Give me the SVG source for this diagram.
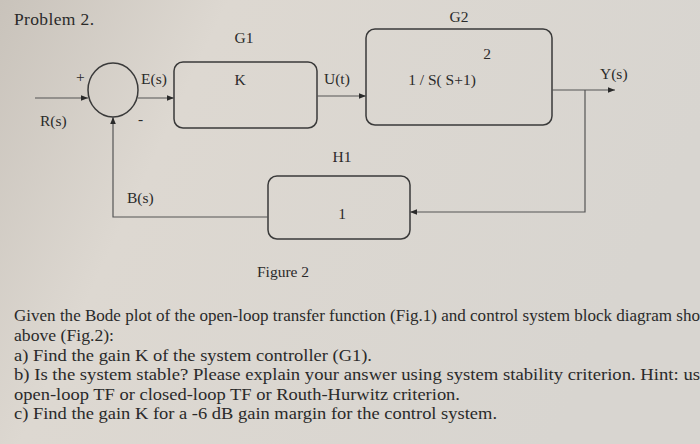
<svg xmlns="http://www.w3.org/2000/svg" width="700" height="444" viewBox="0 0 700 444">
<defs>
<linearGradient id="bg" x1="0" y1="0" x2="1" y2="0.3">
<stop offset="0" stop-color="#c9c3bb"/><stop offset="0.3" stop-color="#ddd8d1"/><stop offset="1" stop-color="#d8d5d0"/>
</linearGradient>
<marker id="ar" viewBox="0 0 10 10" refX="10" refY="5" markerWidth="7" markerHeight="7" orient="auto" markerUnits="userSpaceOnUse"><path d="M0,1 L10,5 L0,9 z" fill="#2a2a2a"/></marker>
<style>
text{font-family:"Liberation Serif",serif;fill:#2a2a2a;font-size:15.5px}
.t{font-size:17.5px}
.b{fill:none;stroke:#3a3a3a;stroke-width:1.5}
.c{fill:none;stroke:#555;stroke-width:1.2}
</style>
</defs>
<rect width="700" height="444" fill="url(#bg)"/>
<text x="14" y="25" class="t" font-size="17" textLength="80">Problem 2.</text>
<g id="sum"><ellipse cx="113" cy="90" rx="25" ry="27" class="b"/><text x="76" y="82" font-size="9">+</text><text x="138" y="124">-</text></g>
<g id="G1"><rect x="174" y="62" width="143" height="66" rx="9" class="b"/><text x="244" y="43" text-anchor="middle">G1</text><text x="240" y="85" text-anchor="middle">K</text></g>
<g id="G2"><rect x="366" y="29" width="186" height="96" rx="9" class="b"/><text x="459" y="22" text-anchor="middle">G2</text><text x="487" y="59" text-anchor="middle">2</text><text x="442" y="85" text-anchor="middle">1 / S( S+1)</text></g>
<g id="H1"><rect x="268" y="176" width="142" height="63" rx="9" class="b"/><text x="342" y="162" text-anchor="middle">H1</text><text x="342" y="219" text-anchor="middle">1</text></g>
<g id="connectors">
<line x1="35" y1="98" x2="88" y2="98" class="c" marker-end="url(#ar)"/>
<line x1="138" y1="98" x2="174" y2="98" class="c" marker-end="url(#ar)"/>
<line x1="317" y1="96" x2="366" y2="96" class="c" marker-end="url(#ar)"/>
<line x1="552" y1="90" x2="615" y2="90" class="c" marker-end="url(#ar)"/>
<polyline points="585,90 585,212 410,212" class="c" marker-end="url(#ar)"/>
<polyline points="268,217 113,217 113,117" class="c" marker-end="url(#ar)"/>
</g>
<text x="40" y="126">R(s)</text>
<text x="141" y="84">E(s)</text>
<text x="324" y="84">U(t)</text>
<text x="600" y="79">Y(s)</text>
<text x="127" y="203">B(s)</text>
<text x="283" y="277" text-anchor="middle" font-size="16.5">Figure 2</text>
<text x="14" y="321" class="t" textLength="686" lengthAdjust="spacingAndGlyphs">Given the Bode plot of the open-loop transfer function (Fig.1) and control system block diagram sho</text>
<text x="14" y="341" class="t" textLength="100" lengthAdjust="spacingAndGlyphs">above (Fig.2):</text>
<text x="14" y="361" class="t" textLength="358" lengthAdjust="spacingAndGlyphs">a) Find the gain K of the system controller (G1).</text>
<text x="14" y="380" class="t" textLength="686" lengthAdjust="spacingAndGlyphs">b) Is the system stable? Please explain your answer using system stability criterion. Hint: us</text>
<text x="14" y="400" class="t" textLength="446" lengthAdjust="spacingAndGlyphs">open-loop TF or closed-loop TF or Routh-Hurwitz criterion.</text>
<text x="14" y="419" class="t" textLength="483" lengthAdjust="spacingAndGlyphs">c) Find the gain K for a -6 dB gain margin for the control system.</text>
</svg>
